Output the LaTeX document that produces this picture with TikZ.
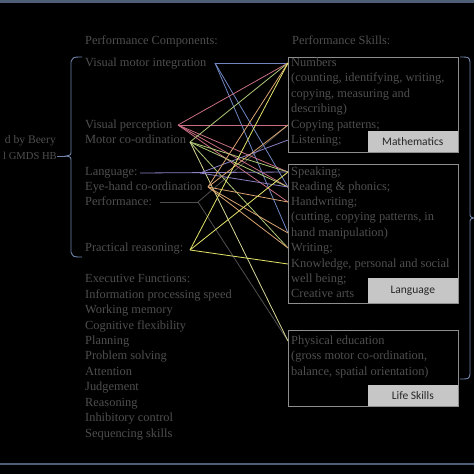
\documentclass[tikz,border=0pt]{standalone}
\usepackage{fontspec}
\setmainfont{Liberation Serif}
\newfontfamily\tagfont{Carlito}
\usetikzlibrary{positioning}

\definecolor{txtgray}{HTML}{4F4F4F}
\definecolor{boxgray}{HTML}{8E8E8E}
\definecolor{tagfill}{HTML}{C6C6C6}
\definecolor{bracecol}{HTML}{7184AC}
\definecolor{rulecol}{HTML}{4E5E76}
\definecolor{blueL}{HTML}{6F86C2}
\definecolor{pinkL}{HTML}{C86E82}
\definecolor{greenL}{HTML}{AFC878}
\definecolor{lavL}{HTML}{8C80C2}
\definecolor{orangeL}{HTML}{D8A472}
\definecolor{grayL}{HTML}{505050}
\definecolor{yellowL}{HTML}{E4E46A}
\definecolor{paleL}{HTML}{D8D898}

\tikzset{
  txt/.style={anchor=west, inner sep=0pt, text height=8.6pt, text depth=2.6pt, text=txtgray, font=\fontsize{12.4}{14}\selectfont},
  item/.style={anchor=west, inner xsep=3pt, inner ysep=0pt, text height=8.6pt, text depth=2.6pt, text=txtgray, font=\fontsize{12.4}{14}\selectfont},
  link/.style={line width=0.8pt},
  skillbox/.style={draw=boxgray, line width=1pt},
  tag/.style={fill=tagfill, draw=none, anchor=south east, minimum width=90pt, minimum height=21pt, inner sep=0pt, text=black!85, font=\tagfont\fontsize{11.5}{13}\selectfont}
}

\begin{document}
\begin{tikzpicture}[x=1pt, y=-1pt]
			%%%%% START %%%%%
			\fill[black] (0, 0) rectangle (474, 474);
			\useasboundingbox (0, 0) rectangle (474, 474);
			
			\fill[rulecol] (0, 0) rectangle (474, 2.5);
			\fill[rulecol] (0, 463) rectangle (474, 465);
			
			%% headers
			\node[txt] (compHead) at (85, 41) {Performance Components:};
			\node[txt] (skillHead) at (292, 41) {Performance Skills:};
			
			%% left side
			\node[txt, anchor=east, font=\fontsize{11.6}{13}\selectfont] (beery) at (56, 140) {d by Beery};
			\node[txt, anchor=east, font=\fontsize{10.6}{13}\selectfont] (gmds) at (57, 156) {l GMDS HB};
			
			\node[txt] (vmiT) at (85, 63) {Visual motor integration};
			\node[txt] (vpT) at (85, 125) {Visual perception};
			\node[txt] (mcT) at (85, 140) {Motor co-ordination};
			\node[txt] (langT) at (85, 172) {Language:};
			\node[txt] (ehT) at (85, 187) {Eye-hand co-ordination};
			\node[txt] (perfT) at (85, 202) {Performance:};
			\node[txt] (prT) at (85, 248) {Practical reasoning:};
			
			\node[txt] (ef) at (85, 279) {Executive Functions:};
			\node[txt] (ef1) at (85, 295) {Information processing speed};
			\node[txt] (ef2) at (85, 310) {Working memory};
			\node[txt] (ef3) at (85, 326) {Cognitive flexibility};
			\node[txt] (ef4) at (85, 341) {Planning};
			\node[txt] (ef5) at (85, 356) {Problem solving};
			\node[txt] (ef6) at (85, 372) {Attention};
			\node[txt] (ef7) at (85, 387) {Judgement};
			\node[txt] (ef8) at (85, 403) {Reasoning};
			\node[txt] (ef9) at (85, 418) {Inhibitory control};
			\node[txt] (ef10) at (85, 434) {Sequencing skills};
			
			\coordinate (vmi) at (215, 63);
			\coordinate (vp) at (178, 125);
			\coordinate (mc) at (190, 142);
			\coordinate (langS) at (140, 173);
			\coordinate (lang) at (200, 173);
			\coordinate (eh) at (208, 187);
			\coordinate (perfS) at (160, 202);
			\coordinate (perf) at (198, 202);
			\coordinate (pr) at (190, 250);
			
			%% left brace
			\draw[bracecol, line width=0.9pt] (82, 57) .. controls (73, 57) .. (71, 62) -- (71, 151)
			      .. controls (71, 155) .. (66, 156) .. controls (71, 157) .. (71, 161) -- (71, 252)
			      .. controls (73, 257) .. (82, 257);
			\draw[bracecol, line width=0.9pt] (gmds.east) -- (66, 156);
			
			%% right boxes
			\node[tag] (mathTag) at (458, 152) {Mathematics};
			\node[tag, minimum height=25pt] (langTag) at (458, 303) {Language};
			\node[tag] (lifeTag) at (458, 406) {Life Skills};
			\draw[skillbox] (288, 57) rectangle (458, 152);
			\draw[skillbox] (288, 164) rectangle (458, 303);
			\draw[skillbox] (288, 330) rectangle (458, 406);
			
			\node[item] (numbers) at (288, 63) {Numbers};
			\node[item] (numA) at (288, 78) {(counting, identifying, writing,};
			\node[item] (numB) at (288, 94) {copying, measuring and};
			\node[item] (numC) at (288, 109) {describing)};
			\node[item] (copying) at (288, 125) {Copying patterns;};
			\node[item] (listening) at (288, 140) {Listening;};
			
			\node[item] (speaking) at (288, 172) {Speaking;};
			\node[item] (reading) at (288, 187) {Reading \& phonics;};
			\node[item] (handwriting) at (288, 202) {Handwriting;};
			\node[item] (handA) at (288, 217) {(cutting, copying patterns, in};
			\node[item] (handB) at (288, 233) {hand manipulation)};
			\node[item] (writing) at (288, 248) {Writing;};
			\node[item] (knowledge) at (288, 264) {Knowledge, personal and social};
			\node[item] (wellbeing) at (288, 279) {well being;};
			\node[item] (arts) at (288, 294) {Creative arts};
			
			\node[item] (pe) at (288, 341) {Physical education};
			\node[item] (peA) at (288, 356) {(gross motor co-ordination,};
			\node[item] (peB) at (288, 372) {balance, spatial orientation)};
			
			%% right brace
			\draw[bracecol, line width=0.9pt] (460, 57) .. controls (469, 57) .. (470, 62) -- (470, 213)
			      .. controls (470, 217) .. (474, 218) .. controls (470, 219) .. (470, 223) -- (470, 374)
			      .. controls (469, 379) .. (460, 379);
			
			%% links
			\draw[link, grayL] (perfS) -- (perf);
			\draw[link, grayL] (perf) -- (copying.west);
			\draw[link, grayL] (perf) -- (pe.west);
			
			\draw[link, blueL] (vmi) -- (numbers.west);
			\draw[link, blueL] (vmi) -- (reading.west);
			\draw[link, blueL] (vmi) -- (handB.west);
			
			\draw[link, pinkL] (vp) -- (numbers.west);
			\draw[link, pinkL] (vp) -- (copying.west);
			\draw[link, pinkL] (vp) -- (speaking.west);
			\draw[link, pinkL] (vp) -- (reading.west);
			\draw[link, pinkL] (vp) -- (handwriting.west);
			
			\draw[link, greenL] (mc) -- (numbers.west);
			\draw[link, greenL] (mc) -- (speaking.west);
			\draw[link, greenL] (mc) -- (reading.west);
			\draw[link, greenL] (mc) -- (writing.west);
			\draw[link, paleL] (mc) -- (pe.west);
			
			\draw[link, lavL] (langS) -- (speaking.west);
			\draw[link, lavL] (lang) -- (listening.west);
			\draw[link, lavL] (lang) -- (reading.west);
			
			\draw[link, orangeL] (eh) -- (numbers.west);
			\draw[link, orangeL] (eh) -- (copying.west);
			\draw[link, orangeL] (eh) -- (handwriting.west);
			\draw[link, orangeL] (eh) -- (handB.west);
			\draw[link, orangeL] (eh) -- (writing.west);
			
			\draw[link, yellowL] (pr) -- (numbers.west);
			\draw[link, yellowL] (pr) -- (speaking.west);
			\draw[link, yellowL] (pr) -- (knowledge.west);
			
			%%%%% END %%%%%
\end{tikzpicture}
\end{document}
